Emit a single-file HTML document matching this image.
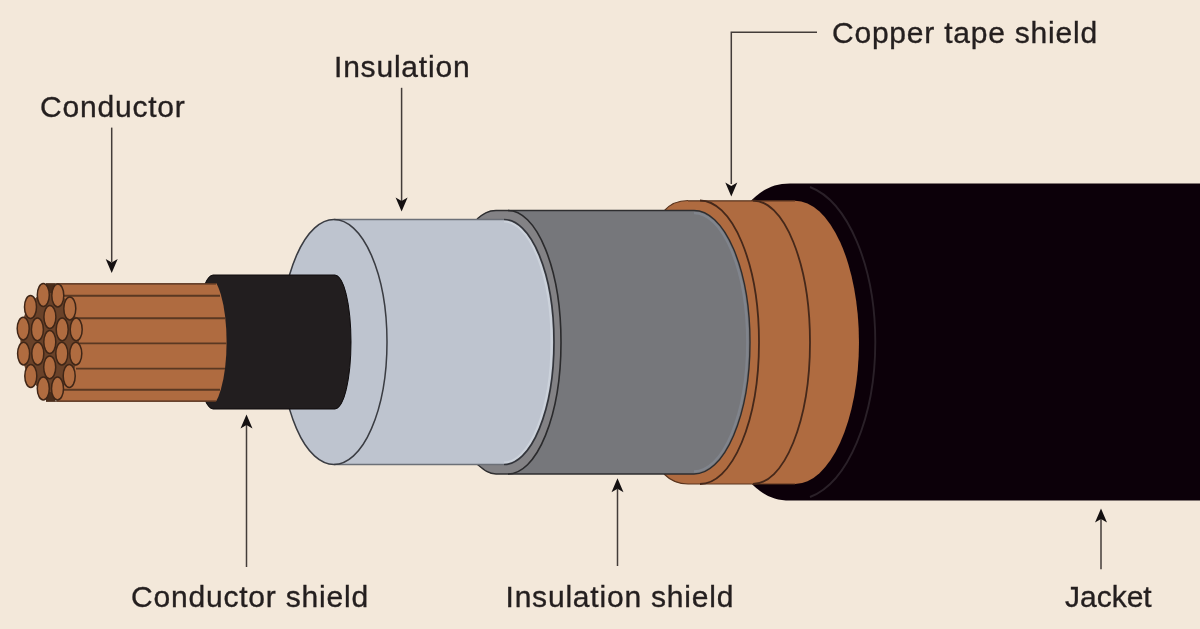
<!DOCTYPE html>
<html><head><meta charset="utf-8">
<style>
html,body{margin:0;padding:0;background:#f3e8da;}
body{width:1200px;height:629px;overflow:hidden;}
svg{display:block;}
text{font-family:"Liberation Sans",sans-serif;font-size:30px;fill:#241f1f;stroke:#241f1f;stroke-width:0.35px;letter-spacing:0.8px;}
</style></head><body>
<svg width="1200" height="629" viewBox="0 0 1200 629">
<rect x="0" y="0" width="1200" height="629" fill="#f3e8da"/>

<!-- JACKET -->
<path d="M1200 183.5 L790 183.5 C772 183.5 760 191 749 203 L749 481 C760 493 772 500.5 790 500.5 L1200 500.5 Z" fill="#0c0009"/>
<path d="M810 187 A81 158 0 0 1 810 497" fill="none" stroke="#2a2028" stroke-width="1.9"/>

<!-- COPPER TAPE -->
<path d="M795 200.8 A64 141.6 0 0 1 795 484 L688 484 C677 484 670 480 664 474 L664 211 C670 204 677 200.8 688 200.8 Z" fill="#af6b40"/>
<path d="M688 200.8 L795 200.8 M688 484 L795 484" stroke="#5a351f" stroke-width="1.2" fill="none"/>
<path d="M664 211 C670 204 677 200.5 688 200.5 M664 474 C670 480 677 484 688 484" stroke="#5a351f" stroke-width="1.2" fill="none"/>
<path d="M700 200.5 A59 141.75 0 0 1 700 484" fill="none" stroke="#45281a" stroke-width="1.8"/>
<path d="M753 200.5 A57 141.75 0 0 1 753 484" fill="none" stroke="#45281a" stroke-width="1.8"/>

<!-- INSULATION SHIELD (gray) -->
<path d="M694 210.5 A56 131.75 0 0 1 694 474 L496 474 C488 474 483 469 477 464 L477 219 C483 214 488 210.5 496 210.5 Z" fill="#76777b"/>
<path d="M477 219 C483 214 488 210.5 496 210.5 L508 210.5 A53 131.75 0 0 1 508 474 L496 474 C488 474 483 469 477 464 Z" fill="#838285"/>
<path d="M694 213 A53.3 129.25 0 0 1 694 471.5" fill="none" stroke="#80848c" stroke-width="2.4"/>
<path d="M477 219 C483 214 488 210.5 496 210.5 L694 210.5 A56 131.75 0 0 1 694 474 L496 474 C488 474 483 469 477 464" fill="none" stroke="#2e2e30" stroke-width="1.4"/>
<path d="M508 210.5 A53 131.75 0 0 1 508 474" fill="none" stroke="#2a2a2c" stroke-width="1.6"/>

<!-- INSULATION -->
<path d="M504 219.5 A50 122.5 0 0 1 504 464.5 L334 464.5 A53 122.5 0 0 1 334 219.5 Z" fill="#bec4cf"/>
<path d="M504 221.5 A47.6 120.5 0 0 1 504 462.5" fill="none" stroke="#ccd2db" stroke-width="2.2"/>
<path d="M334 219.5 L504 219.5 M504 464.5 L334 464.5" fill="none" stroke="#6c7078" stroke-width="1.3"/>
<path d="M504 219.5 A50 122.5 0 0 1 504 464.5" fill="none" stroke="#33353b" stroke-width="1.7"/>
<ellipse cx="334" cy="342" rx="53" ry="122.5" fill="none" stroke="#3a3c42" stroke-width="1.5"/>

<!-- CONDUCTOR SHIELD -->
<path d="M213 275 L335 275 A16 67 0 0 1 335 409 L213 409 A16 67 0 0 1 213 275 Z" fill="#221e1f" stroke="#0e0b0c" stroke-width="1"/>

<!-- CONDUCTOR body -->
<defs><clipPath id="kb"><rect x="0" y="283.2" width="400" height="118.6"/></clipPath></defs>
<g clip-path="url(#kb)">
<path d="M57 275 L207 275 A19.6 67 0 0 1 207 409 L57 409 Z" fill="#af6b40"/>
</g>
<path d="M46 283.8 L216 283.8 M46 401.2 L216 401.2" stroke="#4a2c1c" stroke-width="1.3"/>
<g stroke="#5a3822" stroke-width="1.9">
<path d="M62 295.8 H220 M70 318.3 H225 M76 343.4 H226.5 M76 368.6 H225 M62 389.8 H220"/>
</g>
<!-- strands -->
<path d="M23.2 328.6 L30.5 307 L43.3 295 L50.5 289 L57.8 295.5 L69.8 308.5 L76.2 329.4 L75.8 353.6 L69.2 376 L57.5 388.5 L50.5 395 L43.3 388.5 L30.8 376 L23.6 353.6 Z" fill="#6a4229" stroke="#6a4229" stroke-width="6" stroke-linejoin="round"/>
<path d="M46 283.4 H55 V293 H46 Z M46 392 H55 V401.6 H46 Z" fill="#4a2d1b"/>
<g fill="#b06c40" stroke="#3f2617" stroke-width="1.5">
<ellipse cx="23.2" cy="328.6" rx="6" ry="11.4"/>
<ellipse cx="23.6" cy="353.6" rx="6" ry="11.4"/>
<ellipse cx="30.5" cy="307" rx="6" ry="11.4"/>
<ellipse cx="30.8" cy="376" rx="6" ry="11.4"/>
<ellipse cx="43.3" cy="295" rx="6" ry="11.4"/>
<ellipse cx="43.3" cy="388.5" rx="6" ry="11.4"/>
<ellipse cx="57.8" cy="295.5" rx="6" ry="11.4"/>
<ellipse cx="57.5" cy="388.5" rx="6" ry="11.4"/>
<ellipse cx="69.8" cy="308.5" rx="6" ry="11.4"/>
<ellipse cx="69.2" cy="376" rx="6" ry="11.4"/>
<ellipse cx="76.2" cy="329.4" rx="6" ry="11.4"/>
<ellipse cx="75.8" cy="353.6" rx="6" ry="11.4"/>
<ellipse cx="37.4" cy="329.4" rx="6" ry="11.4"/>
<ellipse cx="37.8" cy="353.6" rx="6" ry="11.4"/>
<ellipse cx="62.2" cy="329.4" rx="6" ry="11.4"/>
<ellipse cx="61.8" cy="353.6" rx="6" ry="11.4"/>
<ellipse cx="49.9" cy="317" rx="6" ry="11.4"/>
<ellipse cx="49.7" cy="367.3" rx="6" ry="11.4"/>
<ellipse cx="49.8" cy="342" rx="6" ry="11.4"/>
</g>

<!-- ARROWS -->
<g stroke="#433c39" stroke-width="1.5" fill="none">
<path d="M111.7 127.6 V262"/>
<path d="M401.6 87.8 V201"/>
<path d="M817 32.2 H731.3 V184"/>
<path d="M246.5 424 V567"/>
<path d="M617.5 489 V566"/>
<path d="M1101 519 V569.3"/>
</g>
<g fill="#141011">
<path d="M111.7 273 L105.7 259 L111.7 262.5 L117.7 259 Z"/>
<path d="M401.6 211.4 L395.6 197.4 L401.6 200.9 L407.6 197.4 Z"/>
<path d="M731.3 196.5 L725.3 182.5 L731.3 186.0 L737.3 182.5 Z"/>
<path d="M246.5 414.5 L240.5 428.5 L246.5 425.0 L252.5 428.5 Z"/>
<path d="M617.5 478.3 L611.5 492.3 L617.5 488.8 L623.5 492.3 Z"/>
<path d="M1101 508.5 L1095 522.5 L1101 519.0 L1107 522.5 Z"/>
</g>

<!-- LABELS -->
<g style="will-change:transform">
<text x="40" y="116.8">Conductor</text>
<text x="334" y="76.6">Insulation</text>
<text x="832" y="43" style="letter-spacing:0.78px">Copper tape shield</text>
<text x="131" y="607">Conductor shield</text>
<text x="505.5" y="607">Insulation shield</text>
<text x="1065" y="607" style="letter-spacing:0">Jacket</text>
</g>
</svg>
</body></html>
